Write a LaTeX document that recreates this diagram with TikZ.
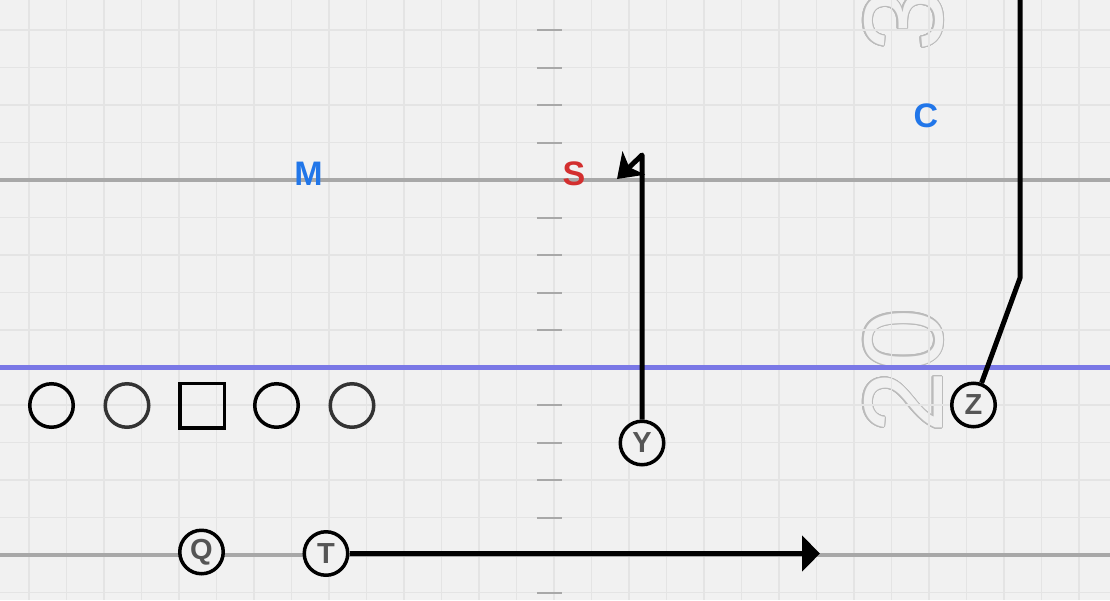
\documentclass[tikz,border=0pt]{standalone}
\usepackage{fontspec}
\setmainfont{Liberation Sans}
\usepackage[copies]{contour}
\usetikzlibrary{arrows.meta}

\definecolor{fieldbg}{HTML}{F1F1F1}
\definecolor{gridgray}{HTML}{E4E4E4}
\definecolor{yardgray}{HTML}{A8A8A8}
\definecolor{numgray}{HTML}{BBBBBB}
\definecolor{losblue}{RGB}{122,120,230}
\definecolor{letgray}{HTML}{555555}
\definecolor{offblue}{RGB}{33,118,233}
\definecolor{defred}{RGB}{211,47,47}

\tikzset{
  gridline/.style={draw=gridgray, line width=1.5pt},
  yardline/.style={draw=yardgray, line width=3.5pt},
  hashmark/.style={draw=yardgray, line width=2pt},
  scrimmage/.style={draw=losblue, line width=5pt},
  yardnum/.style={rotate=90, inner sep=0pt, font=\fontsize{112}{112}\selectfont},
  lineman/.style={circle, draw=black, line width=3.5pt, minimum size=43.5pt, inner sep=0pt},
  snapper/.style={rectangle, draw=black, line width=3.5pt, minimum size=44.5pt, inner sep=0pt},
  player/.style={circle, draw=black, fill=fieldbg, line width=3.5pt, minimum size=43.5pt,
    inner sep=0pt, text=letgray, font=\bfseries\fontsize{29}{29}\selectfont},
  defender/.style={inner sep=0pt, font=\bfseries\fontsize{34}{34}\selectfont},
  route/.style={draw=black, line width=5pt},
}

% outlined yard number: background-coloured glyphs with a grey contour
\contourlength{1.1pt}
\contournumber{24}
\newcommand{\outlinenum}[1]{\contour{numgray}{\textcolor{fieldbg}{#1}}}

\begin{document}
\begin{tikzpicture}[x=1pt, y=-1pt]
  \useasboundingbox[fill=fieldbg] (0,0) rectangle (1110,600);

  % yard numbers
  \node[yardnum] (num20) at (904,371) {\outlinenum{20}};
  \node[yardnum] (num30) at (904,-11) {\outlinenum{30}};

  % field grid
  \foreach \gx in {0,...,28}
    \draw[gridline] ({29+37.5*\gx},0) -- ({29+37.5*\gx},600);
  \foreach \gy in {0,...,15}
    \draw[gridline] (0,{30+37.5*\gy}) -- (1110,{30+37.5*\gy});

  % hash marks
  \foreach \gy in {0,1,2,3,5,6,7,8,10,11,12,13,15}
    \draw[hashmark] (537,{30+37.5*\gy}) -- (562,{30+37.5*\gy});

  % yard lines and line of scrimmage
  \draw[yardline] (0,180) -- (1110,180);
  \draw[yardline] (0,555) -- (1110,555);
  \draw[scrimmage] (0,367.5) -- (1110,367.5);

  % offensive line
  \node[lineman] (lt) at (51.5,405.5) {};
  \node[lineman, draw=black!80] (lg) at (127,405.5) {};
  \node[snapper] (ctr) at (202,405.5) {};
  \node[lineman] (rg) at (276.5,405.5) {};
  \node[lineman, draw=black!80] (rt) at (352,405.5) {};

  % skill players
  \node[player] (Q) at (201.5,552) {Q};
  \node[player] (T) at (326,553.5) {T};
  \node[player] (Y) at (642,443) {Y};
  \node[player] (Z) at (973.5,405) {Z};

  % defenders
  \node[defender, text=offblue] (M) at (308.5,174) {M};
  \node[defender, text=defred] (S) at (574,173.5) {S};
  \node[defender, text=offblue] (C) at (926,116) {C};

  % routes
  \coordinate (Tend) at (820,553.5);
  \coordinate (Yend) at (642,155);
  \coordinate (Ytip) at (617,179);
  \coordinate (Zbend) at (1020,278);
  \coordinate (Ztop) at (1020,-5);

  \draw[route, -{Triangle[length=18pt, width=35pt]}] (T) -- (Tend);
  \draw[route, line join=round, -{Stealth[length=23pt, width=32pt, inset=6pt]}] (Y) -- (Yend) -- (Ytip);
  \draw[route] (Z) -- (Zbend) -- (Ztop);
\end{tikzpicture}
\end{document}
